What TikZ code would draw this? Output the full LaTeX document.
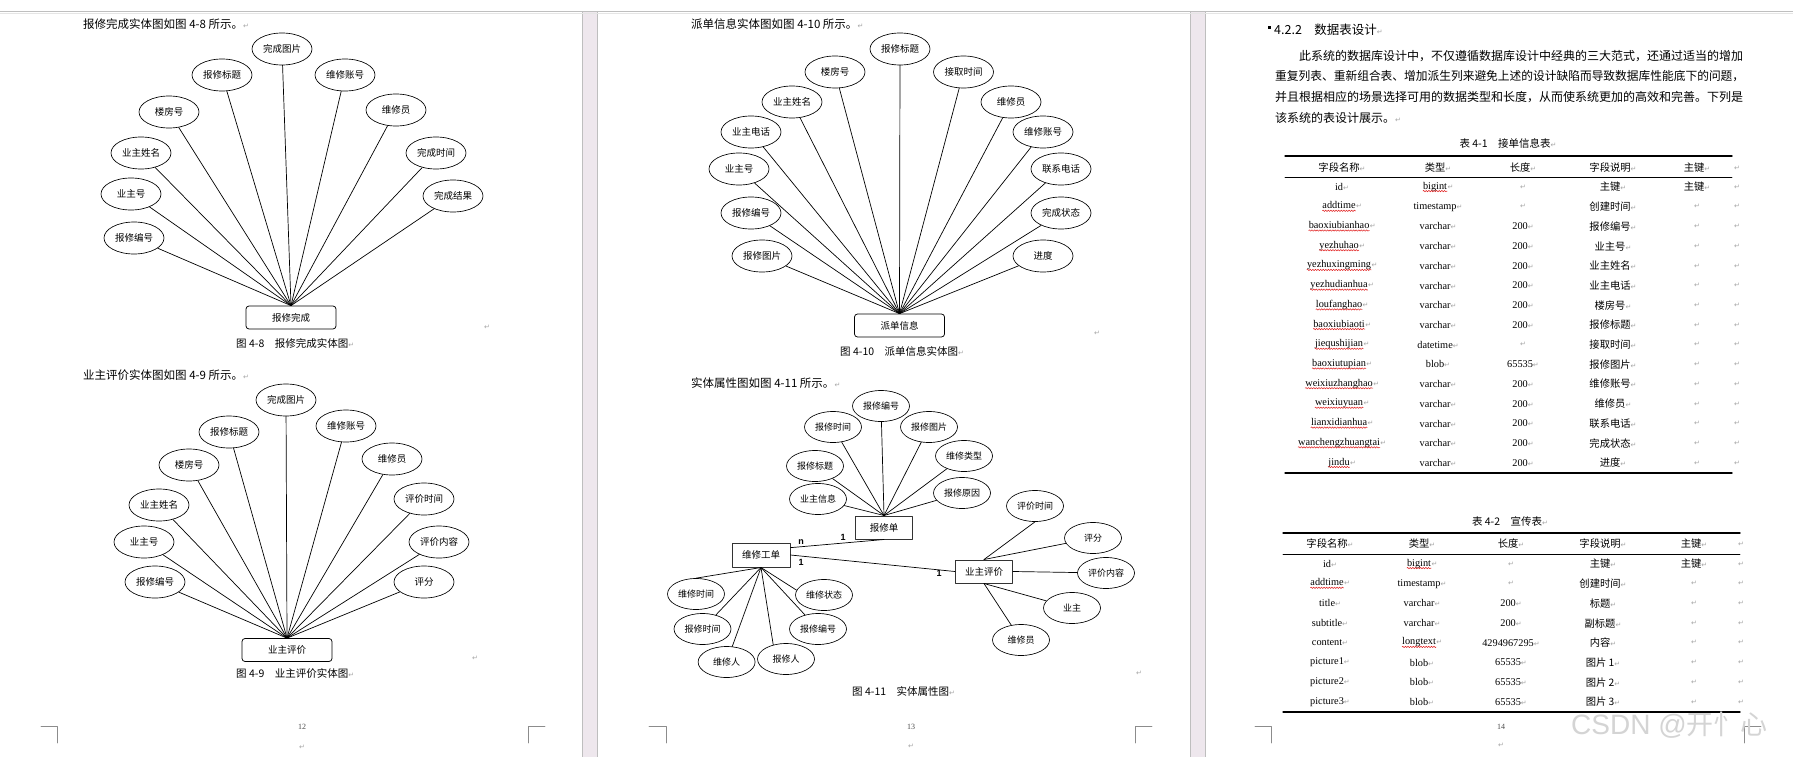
\documentclass[tikz,border=0pt]{standalone}
\usepackage{fontspec}
\usepackage{graphicx}
\usetikzlibrary{shapes.geometric,decorations.pathmorphing}
\setmainfont{Liberation Serif}
\newfontfamily\cjk{Noto Sans CJK SC}
\newfontfamily\arrowfont{DejaVu Sans}
\newfontfamily\labelsans{Liberation Sans}

\definecolor{gapfill}{RGB}{238,231,237}
\definecolor{gapedge}{RGB}{190,190,190}
\definecolor{markgray}{RGB}{165,165,165}
\definecolor{spellred}{RGB}{225,30,30}
\definecolor{cornergray}{RGB}{140,140,140}
\definecolor{wmgray}{RGB}{212,212,212}

\newcommand\rmk{{\arrowfont\fontsize{7}{7}\selectfont\textcolor{markgray}{↵}}}
\newcommand\spl[1]{\tikz[baseline=(sw.base)]{\node[inner sep=0pt] (sw) {#1};
  \draw[spellred,line width=0.5pt,decorate,decoration={snake,amplitude=0.7pt,segment length=2.6pt}]
    ([yshift=-2pt]sw.base west) -- ([yshift=-2pt]sw.base east);}}

\tikzset{
  attr/.style={ellipse,draw,line width=0.65pt,inner sep=0pt,
    minimum width=60pt,minimum height=32pt,
    font=\cjk\fontsize{9.5}{10}\selectfont},
  attrs/.style={attr,minimum width=57pt,minimum height=31pt,
    font=\cjk\fontsize{9}{10}\selectfont},
  entbox/.style={draw,rounded corners=3pt,line width=0.75pt,
    minimum width=90pt,minimum height=23pt,inner sep=0pt,
    font=\cjk\fontsize{9.5}{10}\selectfont},
  entsq/.style={draw=black!80,line width=1pt,
    minimum width=57pt,minimum height=23pt,inner sep=0pt,
    font=\cjk\fontsize{9.5}{10}\selectfont},
  link/.style={line width=0.7pt},
  card/.style={inner sep=0pt,font=\labelsans\bfseries\fontsize{9}{10}\selectfont},
  para/.style={anchor=west,inner sep=0pt,font=\cjk\fontsize{11.5}{12}\selectfont},
  capt/.style={anchor=west,inner sep=0pt,font=\cjk\fontsize{10.5}{11}\selectfont},
  body/.style={anchor=west,inner sep=0pt,font=\cjk\fontsize{12}{13}\selectfont},
  cell/.style={inner sep=0pt,font=\fontsize{10.3}{11}\selectfont},
  cellc/.style={inner sep=0pt,font=\cjk\fontsize{10.3}{11}\selectfont},
  corner/.style={draw=cornergray,line width=0.8pt},
  pageno/.style={inner sep=0pt,text=black!70,font=\fontsize{8}{8}\selectfont},
  rule/.style={line width=1.3pt},
}

\begin{document}
\begin{tikzpicture}[x=1pt,y=-1pt,line cap=round,line join=round]
  \useasboundingbox (0,0) rectangle (1793,757);
  \fill[white] (0,0) rectangle (1793,757);
  % page gaps and toolbar edge
  \fill[gapfill] (582,12) rectangle (597,757);
  \draw[gapedge,line width=0.8pt] (582,12) -- (582,757) (597,12) -- (597,757);
  \fill[gapfill] (1190,12) rectangle (1205,757);
  \draw[gapedge,line width=0.8pt] (1190,12) -- (1190,757) (1205,12) -- (1205,757);
  \draw[black!25,line width=1pt] (0,12) -- (1793,12);
  \draw[black!10,line width=1.2pt] (0,13.5) -- (1793,13.5);

  % ---- figure 4-8
  \node[para] (h48) at (83,24) {报修完成实体图如图 4-8 所示。\rmk};
  \node[entbox] (wcbox) at (291,317.5) {报修完成};
  \foreach \nm/\px/\py/\txt in {1/282/49/完成图片, 2/222/75/报修标题, 3/345/75/维修账号,
      4/169/112/楼房号, 5/396/110/维修员, 6/141/153/业主姓名, 7/436/153/完成时间,
      8/131/194/业主号, 9/453/196/完成结果, 10/134/238/报修编号}{
    \node[attr] (wc\nm) at (\px,\py) {\txt};
    \draw[link] (wcbox.north) -- (wc\nm);
  }
  \node[capt] (c48) at (236,343) {图 4-8　报修完成实体图\rmk};
  \node[inner sep=0pt] (r48) at (487,327) {\rmk};

  % ---- figure 4-9
  \node[para] (h49) at (83,375) {业主评价实体图如图 4-9 所示。\rmk};
  \node[entbox] (pjbox) at (287,650) {业主评价};
  \foreach \nm/\px/\py/\txt in {1/286/400/完成图片, 2/229/432/报修标题, 3/346/426/维修账号,
      4/189/465/楼房号, 5/392/459/维修员, 6/159/505/业主姓名, 7/424/499/评价时间,
      8/144/542/业主号, 9/439/542/评价内容, 10/155/582/报修编号, 11/424/582/评分}{
    \node[attr] (pa\nm) at (\px,\py) {\txt};
    \draw[link] (pjbox.north) -- (pa\nm);
  }
  \node[capt] (c49) at (236,674) {图 4-9　业主评价实体图\rmk};
  \node[inner sep=0pt] (r49) at (475,658) {\rmk};

  % ---- figure 4-10
  \node[para] (h410) at (691,24) {派单信息实体图如图 4-10 所示。\rmk};
  \node[entbox] (pdbox) at (899.5,325.5) {派单信息};
  \foreach \nm/\px/\py/\txt in {1/900/49/报修标题, 2/835/72/楼房号, 3/963.5/72/接取时间,
      4/792/102/业主姓名, 5/1011/102/维修员, 6/751/132/业主电话, 7/1043/132/维修账号,
      8/739/169/业主号, 9/1061/169/联系电话, 10/751/213/报修编号, 11/1061/213/完成状态,
      12/762/256/报修图片, 13/1043/256/进度}{
    \node[attr] (pd\nm) at (\px,\py) {\txt};
    \draw[link] (pdbox.north) -- (pd\nm);
  }
  \node[capt] (c410) at (840,351) {图 4-10　派单信息实体图\rmk};
  \node[inner sep=0pt] (r410) at (1097,333) {\rmk};

  % ---- figure 4-11
  \node[para] (h411) at (691,383) {实体属性图如图 4-11 所示。\rmk};
  \node[entsq] (bxd) at (884,527.5) {报修单};
  \node[entsq,minimum width=58pt,minimum height=24pt] (gd) at (761,555) {维修工单};
  \node[entsq] (pj) at (984,571.5) {业主评价};
  \foreach \nm/\px/\py/\txt in {1/881/406/报修编号, 2/833/427/报修时间, 3/929/427/报修图片,
      4/815/466/报修标题, 5/964/456/维修类型, 6/818/499/业主信息, 7/962/493/报修原因}{
    \node[attrs] (bd\nm) at (\px,\py) {\txt};
    \draw[link] (bxd.north) -- (bd\nm);
  }
  \foreach \nm/\px/\py/\txt in {1/696/594/维修时间, 2/702.5/629/报修时间, 3/726.6/662/维修人,
      4/786/659/报修人, 5/818/629/报修编号, 6/824/595/维修状态}{
    \node[attrs] (gd\nm) at (\px,\py) {\txt};
  }
  \draw[link] (gd.south) -- (gd1.north);
  \draw[link] (gd.south) -- (gd2);
  \draw[link] (gd.south) -- (gd3);
  \draw[link] (gd.south) -- (gd4.132);
  \draw[link] (gd.south) -- (gd5);
  \draw[link] (gd.south) -- (gd6.170);
  \foreach \nm/\px/\py/\txt in {1/1035/506/评价时间, 2/1093/538/评分, 3/1106/573/评价内容,
      4/1072/608/业主, 5/1021/640/维修员}{
    \node[attrs] (pj\nm) at (\px,\py) {\txt};
  }
  \draw[link] (pj.north) -- (pj1.south);
  \draw[link] (pj.north) -- (pj2);
  \draw[link] (pj.east) -- (pj3);
  \draw[link] (pj.south) -- (pj4);
  \draw[link] (pj.south) -- (pj5);
  \draw[link] (gd.14) -- (bxd.south);
  \draw[link] (gd.east) -- (pj.west);
  \node[card] (k1) at (801,542) {n};
  \node[card] (k2) at (843,537) {1};
  \node[card] (k3) at (801,562) {1};
  \node[card] (k4) at (939,573) {1};
  \node[capt] (c411) at (852,691) {图 4-11　实体属性图\rmk};
  \node[inner sep=0pt] (r411) at (1139,673) {\rmk};

  % ---- right page text
  \fill (1267.5,26.5) rectangle (1270.5,29.5);
  \node[anchor=west,inner sep=0pt,font=\cjk\fontsize{12.5}{13}\selectfont] (h422) at (1274,30)
    {4.2.2　数据表设计\rmk};
  \node[body] (l1) at (1299,56) {此系统的数据库设计中，不仅遵循数据库设计中经典的三大范式，还通过适当的增加};
  \node[body] (l2) at (1275,76.5) {\scalebox{0.977}[1]{重复列表、重新组合表、增加派生列来避免上述的设计缺陷而导致数据库性能底下的问题，}};
  \node[body] (l3) at (1275,97.5) {并且根据相应的场景选择可用的数据类型和长度，从而使系统更加的高效和完善。下列是};
  \node[body] (l4) at (1275,118) {该系统的表设计展示。\rmk};

  % ---- table 4-1
  \node[capt,anchor=center] (t41) at (1508,143) {表 4-1　接单信息表\rmk};
  \draw[rule] (1285,156) -- (1732,156);
  \draw[line width=0.8pt] (1285,177) -- (1732,177);
  \draw[rule] (1285,473) -- (1732,473);
  \foreach \hd/\hx in {字段名称/1342, 类型/1438, 长度/1523, 字段说明/1613, 主键/1697}
    \node[cellc] (ha\hx) at (\hx,168) {\hd\rmk};
  \node[cell] (haz) at (1737,168) {\rmk};
  \foreach \fa/\fb/\fc/\fd/\fe [count=\rw from 0] in {
      id/{\spl{bigint}}/{}/主键/主键,
      {\spl{addtime}}/timestamp/{}/创建时间/{},
      {\spl{baoxiubianhao}}/varchar/200/报修编号/{},
      {\spl{yezhuhao}}/varchar/200/业主号/{},
      {\spl{yezhuxingming}}/varchar/200/业主姓名/{},
      {\spl{yezhudianhua}}/varchar/200/业主电话/{},
      {\spl{loufanghao}}/varchar/200/楼房号/{},
      {\spl{baoxiubiaoti}}/varchar/200/报修标题/{},
      {\spl{jiequshijian}}/datetime/{}/接取时间/{},
      {\spl{baoxiutupian}}/blob/65535/报修图片/{},
      {\spl{weixiuzhanghao}}/varchar/200/维修账号/{},
      {\spl{weixiuyuan}}/varchar/200/维修员/{},
      {\spl{lianxidianhua}}/varchar/200/联系电话/{},
      {\spl{wanchengzhuangtai}}/varchar/200/完成状态/{},
      {\spl{jindu}}/varchar/200/进度/{}}{
    \pgfmathsetmacro\ry{187+19.71*\rw}
    \node[cell] (ta\rw a) at (1342,\ry) {\fa\rmk};
    \node[cell] (ta\rw b) at (1438,\ry) {\fb\rmk};
    \node[cell] (ta\rw c) at (1523,\ry) {\fc\rmk};
    \node[cellc] (ta\rw d) at (1613,\ry) {\fd\rmk};
    \node[cellc] (ta\rw e) at (1697,\ry) {\fe\rmk};
    \node[cell] (ta\rw z) at (1737,\ry) {\rmk};
  }

  % ---- table 4-2
  \node[capt,anchor=center] (t42) at (1510,521) {表 4-2　宣传表\rmk};
  \draw[rule] (1283,533) -- (1740,533);
  \draw[line width=0.8pt] (1283,554) -- (1740,554);
  \draw[rule] (1283,712) -- (1740,712);
  \foreach \hd/\hx in {字段名称/1330, 类型/1422, 长度/1511, 字段说明/1603, 主键/1694}
    \node[cellc] (hb\hx) at (\hx,544) {\hd\rmk};
  \node[cell] (hbz) at (1741,544) {\rmk};
  \foreach \fa/\fb/\fc/\fd/\fe [count=\rw from 0] in {
      id/{\spl{bigint}}/{}/主键/主键,
      {\spl{addtime}}/timestamp/{}/创建时间/{},
      title/varchar/200/标题/{},
      subtitle/varchar/200/副标题/{},
      content/{\spl{longtext}}/4294967295/内容/{},
      picture1/blob/65535/图片 1/{},
      picture2/blob/65535/图片 2/{},
      picture3/blob/65535/图片 3/{}}{
    \pgfmathsetmacro\ry{564+19.7*\rw}
    \node[cell] (tb\rw a) at (1330,\ry) {\fa\rmk};
    \node[cell] (tb\rw b) at (1422,\ry) {\fb\rmk};
    \node[cell] (tb\rw c) at (1511,\ry) {\fc\rmk};
    \node[cellc] (tb\rw d) at (1603,\ry) {\fd\rmk};
    \node[cellc] (tb\rw e) at (1694,\ry) {\fe\rmk};
    \node[cell] (tb\rw z) at (1741,\ry) {\rmk};
  }

  % ---- page corners and numbers
  \draw[corner] (41,726) -- (57,726) -- (57,743);
  \draw[corner] (528,743) -- (528,726) -- (545,726);
  \draw[corner] (649,726) -- (666,726) -- (666,743);
  \draw[corner] (1135,743) -- (1135,726) -- (1152,726);
  \draw[corner] (1255,726) -- (1271,726) -- (1271,743);
  \draw[corner] (1744,743) -- (1744,726) -- (1761,726);
  \node[pageno] (p12) at (302,727) {12};
  \node[pageno] (p13) at (911,727) {13};
  \node[pageno] (p14) at (1501,727) {14};
  \node[inner sep=0pt] (q12) at (302,747) {\rmk};
  \node[inner sep=0pt] (q13) at (911,746) {\rmk};
  \node[inner sep=0pt] (q14) at (1501,745) {\rmk};

  % ---- watermark
  \node[inner sep=0pt,text=wmgray,anchor=west] (wm) at (1571,725)
    {{\labelsans\fontsize{28}{28}\selectfont CSDN @}{\cjk\fontsize{27}{28}\selectfont 开忄心}};
\end{tikzpicture}
\end{document}
